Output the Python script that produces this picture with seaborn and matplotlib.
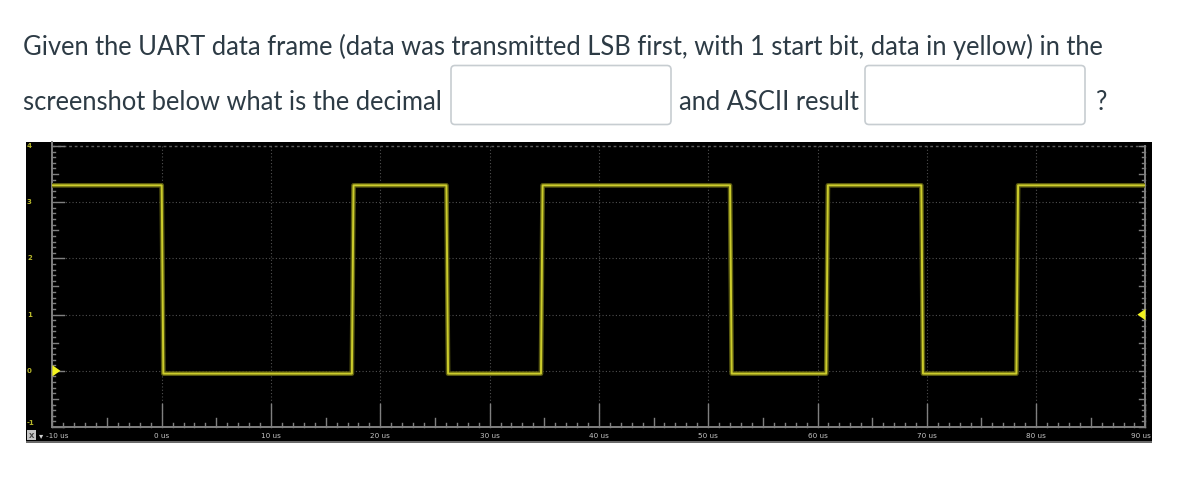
import numpy as np
import pandas as pd
import matplotlib
matplotlib.use("Agg")
import matplotlib.pyplot as plt
from matplotlib.patches import FancyBboxPatch, Rectangle, Polygon
from matplotlib.transforms import Affine2D
import seaborn as sns

# ---------------- data ----------------
time_range_us = [-10, 90]
edge_times_us = [0.0, 17.4, 26.05, 34.7, 52.0, 60.8, 69.5, 78.2]
levels_after_edge = [-0.05, 3.3, -0.05, 3.3, -0.05, 3.3, -0.05, 3.3]
idle_level = 3.3
edge_duration_us = 0.15
x_tick_values = [-10, 0, 10, 20, 30, 40, 50, 60, 70, 80, 90]
x_tick_labels = ["-10 us", "0 us", "10 us", "20 us", "30 us", "40 us",
                 "50 us", "60 us", "70 us", "80 us", "90 us"]
y_tick_values = [4, 3, 2, 1, 0, -1]
y_tick_labels = ["4", "3", "2", "1", "0", "-1"]
left_marker_level = 0
right_marker_level = 1

question_line1 = ("Given the UART data frame (data was transmitted LSB first, "
                  "with 1 start bit, data in yellow) in the")
question_line2a = "screenshot below what is the decimal"
question_line2b = "and ASCII result"
question_line2c = "?"

# ---------------- figure ----------------
W, H = 1182, 490
fig = plt.figure(figsize=(W / 100, H / 100), dpi=100, facecolor="white")
px = Affine2D().scale(1 / W, -1 / H).translate(0, 1) + fig.transFigure

text_color = "#2d3b45"
qfont = ["Lato", "DejaVu Sans"]
fs_q = 18.4
fig.text(23, 55, question_line1, transform=px, fontsize=fs_q, family=qfont,
         color=text_color, va="baseline", ha="left")
fig.text(23, 110, question_line2a, transform=px, fontsize=fs_q, family=qfont,
         color=text_color, va="baseline", ha="left")
fig.text(679, 110, question_line2b, transform=px, fontsize=fs_q, family=qfont,
         color=text_color, va="baseline", ha="left")
fig.text(1096, 110, question_line2c, transform=px, fontsize=fs_q, family=qfont,
         color=text_color, va="baseline", ha="left")
for bx in (451, 865):
    fig.patches.append(FancyBboxPatch((bx, 65.5), 220, 59,
                                      boxstyle="round,pad=0,rounding_size=4",
                                      transform=px, facecolor="white",
                                      edgecolor="#c7cdd1", linewidth=1.2))

# black scope panel
panel = Rectangle((26, 142), 1126, 300, transform=px,
                  facecolor="black", edgecolor="none", zorder=-2)
fig.patches.append(panel)
fig.patches.append(Rectangle((26, 441), 1126, 2, transform=px,
                             facecolor="#6a6a6a", edgecolor="none", zorder=-1))

# ---------------- axes ----------------
x0, x1 = 52.4, 1145.4
ytop, ybot = 146, 427
ax = fig.add_axes([x0 / W, 1 - ybot / H, (x1 - x0) / W, (ybot - ytop) / H])
ax.set_zorder(3)
ax.set_facecolor("black")
ax.set_xlim(time_range_us)
ax.set_ylim(-1, 4)
ax.set_xticks([])
ax.set_yticks([])
ax.spines["top"].set_visible(False)
axis_gray = "#808080"
for s in ("left", "bottom", "right"):
    ax.spines[s].set_color(axis_gray)
    ax.spines[s].set_linewidth(1.4)

grid_col = "#505050"
for xv in x_tick_values[1:-1]:
    ax.axvline(xv, color=grid_col, lw=0.8, ls=(0, (1, 2)), zorder=1)
for yv in y_tick_values[1:-1]:
    ax.axhline(yv, color=grid_col, lw=0.8, ls=(0, (1, 2)), zorder=1)
ax.axhline(4, color="#5c5c5c", lw=1.0, ls=(0, (2, 2)), zorder=1, clip_on=False)

# axis tick marks (pixel lengths converted to axes fractions)
fx = 1 / (x1 - x0)
fy = 1 / (ybot - ytop)
ytr = ax.get_yaxis_transform()
xtr = ax.get_xaxis_transform()
for k in range(-10, 41):
    yv = k / 10
    if k % 10 == 0:
        L = 12
    elif k % 5 == 0:
        L = 6
    else:
        L = 3
    ax.plot([0, L * fx], [yv, yv], transform=ytr, color=axis_gray, lw=1.0,
            clip_on=False, zorder=2)
    Lr = 6 if k % 5 == 0 else 3
    ax.plot([1 - Lr * fx, 1], [yv, yv], transform=ytr, color=axis_gray,
            lw=1.0, clip_on=False, zorder=2)
for k in range(-10, 91):
    if k % 10 == 0:
        L = 23
    elif k % 5 == 0:
        L = 9
    else:
        L = 4
    ax.plot([k, k], [0, L * fy], transform=xtr, color=axis_gray, lw=1.0,
            clip_on=False, zorder=2)
ax.plot([0, 0], [1, 1 + 4 * fy], transform=ax.transAxes, color=axis_gray,
        lw=1.4, clip_on=False)

# ---------------- trace ----------------
ts, vs = [time_range_us[0]], [idle_level]
prev = idle_level
for te, lv in zip(edge_times_us, levels_after_edge):
    ts += [te, te + edge_duration_us]
    vs += [prev, lv]
    prev = lv
ts.append(time_range_us[1])
vs.append(prev)
df = pd.DataFrame({"t_us": ts, "volts": vs})
sns.lineplot(data=df, x="t_us", y="volts", ax=ax, sort=False, estimator=None,
             color="#58580f", lw=3.4, zorder=3)
sns.lineplot(data=df, x="t_us", y="volts", ax=ax, sort=False, estimator=None,
             color="#cccc2c", lw=1.4, zorder=4)
ax.set_xlabel("")
ax.set_ylabel("")
ax.set_xlim(time_range_us)
ax.set_ylim(-1, 4)

# markers
ax.add_patch(Polygon([[0, left_marker_level + 0.1], [8 * fx, left_marker_level],
                      [0, left_marker_level - 0.1]], closed=True,
                     transform=ytr, facecolor="#f2f21e", edgecolor="none",
                     zorder=5, clip_on=False))
ax.add_patch(Polygon([[1, right_marker_level + 0.1],
                      [1 - 8 * fx, right_marker_level],
                      [1, right_marker_level - 0.1]], closed=True,
                     transform=ytr, facecolor="#f2f21e", edgecolor="none",
                     zorder=5, clip_on=False))

# tick labels
def ypix(v):
    return ytop + (4 - v) * (ybot - ytop) / 5

def xpix(t):
    return x0 + (t + 10) * (x1 - x0) / 100

for v, lab in zip(y_tick_values, y_tick_labels):
    yy = ypix(v) - (4 if v == -1 else 0)
    fig.text(27, yy, lab, transform=px, fontsize=5, color="#b8b82c",
             ha="left", va="center", fontweight="bold")
for t, lab in zip(x_tick_values, x_tick_labels):
    xx = xpix(t)
    ha = "center"
    if t == 90:
        xx, ha = 1151, "right"
    if t == -10:
        xx, ha = 46, "left"
    fig.text(xx, 435.5, lab, transform=px, fontsize=5.2, color="#c4c4c4",
             ha=ha, va="center")

fig.patches.append(Rectangle((27, 430), 9, 10, transform=px,
                             facecolor="#c4c4c4", edgecolor="none", zorder=2))
fig.text(31.5, 435.5, "X", transform=px, fontsize=5, color="#404040",
         ha="center", va="center", fontweight="bold", zorder=3)
fig.text(41, 435.5, "▾", transform=px, fontsize=6, color="#d0d0d0",
         ha="center", va="center", zorder=3)

fig.savefig("out.png", dpi=100, facecolor="white")
